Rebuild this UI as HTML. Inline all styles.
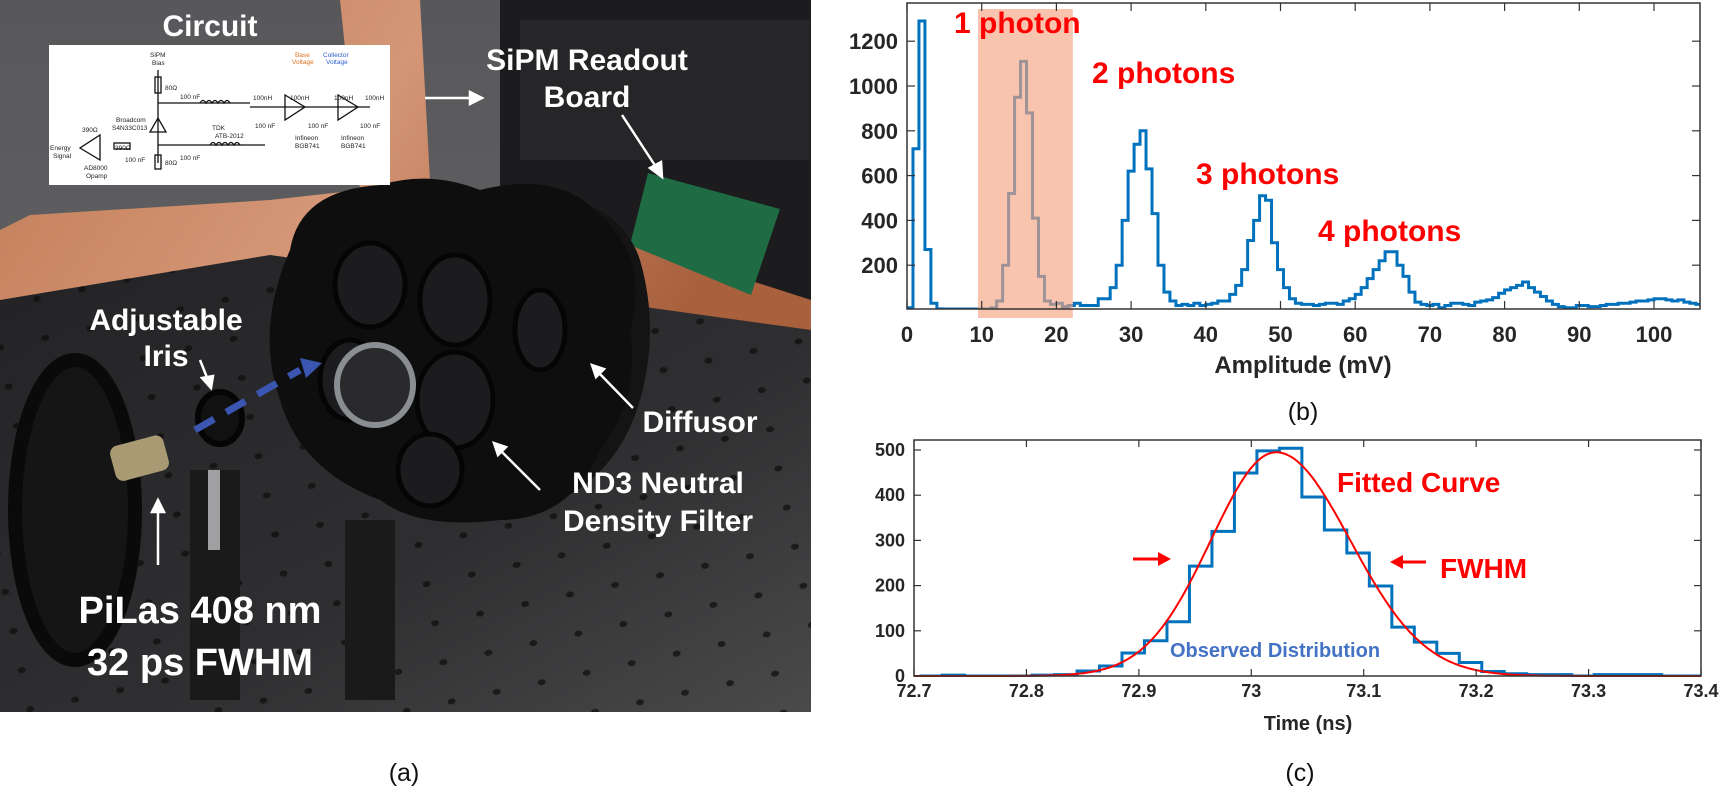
<!DOCTYPE html>
<html><head><meta charset="utf-8"><style>
html,body{margin:0;padding:0;background:#fff;}
svg{display:block;font-family:"Liberation Sans",Arial,sans-serif;}
.tk{font-weight:bold;fill:#262626;}
.lbw{font-weight:bold;fill:#fff;font-size:30px;}
.red{font-weight:bold;fill:#ff0000;}
</style></head><body>
<svg id="fig" width="1720" height="789" viewBox="0 0 1720 789">
<defs>
<linearGradient id="wall" x1="0" y1="0" x2="0" y2="1"><stop offset="0" stop-color="#58585b"/><stop offset="1" stop-color="#68686a"/></linearGradient>
<linearGradient id="copper" x1="0" y1="0" x2="1" y2="0.3"><stop offset="0" stop-color="#c07a55"/><stop offset="0.5" stop-color="#d49676"/><stop offset="1" stop-color="#a8603d"/></linearGradient>
<linearGradient id="table" x1="0" y1="0" x2="1" y2="1"><stop offset="0" stop-color="#232325"/><stop offset="0.6" stop-color="#2f2f31"/><stop offset="1" stop-color="#4a4a4b"/></linearGradient>
<pattern id="holes" width="46" height="40" patternUnits="userSpaceOnUse" patternTransform="rotate(-12)"><ellipse cx="20" cy="20" rx="4" ry="3" fill="#0c0c0c"/></pattern>
<clipPath id="clipB"><rect x="907" y="3" width="793" height="306"/></clipPath>
<clipPath id="clipC"><rect x="914" y="440" width="787" height="237"/></clipPath>
</defs>

<g id="photo">
  <rect x="0" y="0" width="811" height="712" fill="url(#wall)"/>
  <rect x="500" y="0" width="311" height="330" fill="#1c1c1e"/>
  <polygon points="340,0 420,0 430,180 440,205 500,200 811,300 811,380 0,300 0,230 30,215 270,200 360,190" fill="url(#copper)"/>
  <polygon points="0,300 270,255 811,330 811,712 0,712" fill="url(#table)"/>
  <polygon points="0,300 270,255 811,330 811,712 0,712" fill="url(#holes)" opacity="0.7"/>
  <rect x="520" y="20" width="290" height="140" fill="#262628"/>
  <polygon points="648,173 780,209 751,295 630,245" fill="#1f6b43"/>
  <path d="M420,210 Q470,180 540,195 Q620,200 640,260 Q660,330 640,400 Q620,470 560,500 Q500,520 460,500 Z" fill="#141415"/>
  <path d="M290,250 Q300,190 380,185 Q430,170 480,190 Q560,170 600,215 Q650,260 630,330 Q640,400 600,450 Q570,520 500,520 Q420,530 380,500 Q300,470 280,400 Q255,330 290,250 Z" fill="#0e0e0f"/>
  <g fill="#1c1c1e" stroke="#050505" stroke-width="5">
    <ellipse cx="370" cy="285" rx="35" ry="42"/><ellipse cx="455" cy="300" rx="35" ry="45"/>
    <ellipse cx="350" cy="380" rx="30" ry="40"/><ellipse cx="455" cy="400" rx="38" ry="48"/>
    <ellipse cx="430" cy="470" rx="32" ry="36"/><ellipse cx="540" cy="330" rx="25" ry="40"/>
  </g>
  <ellipse cx="375" cy="385" rx="38" ry="40" fill="#2a2a2c" stroke="#8a8e92" stroke-width="6"/>
  <ellipse cx="75" cy="510" rx="60" ry="150" fill="#151516" stroke="#0a0a0a" stroke-width="14"/>
  <rect x="190" y="470" width="50" height="230" fill="#1a1a1b"/>
  <rect x="345" y="520" width="50" height="180" fill="#1a1a1b"/>
  <rect x="208" y="470" width="12" height="80" fill="#a0a0a2"/>
  <ellipse cx="220" cy="418" rx="22" ry="26" fill="#111" stroke="#050505" stroke-width="6"/>
  <rect x="112" y="440" width="55" height="36" rx="8" fill="#a99a74" transform="rotate(-15 140 458)"/>
  <line x1="195" y1="430" x2="300" y2="370" stroke="#3a56b0" stroke-width="7" stroke-dasharray="22,14"/>
  <polygon points="322,363 300,358 306,378" fill="#3a56b0"/>
  <rect x="49" y="45" width="341" height="140" fill="#fff"/>
  <g stroke="#111" stroke-width="1.3" fill="none">
    <line x1="158" y1="70" x2="158" y2="163"/><rect x="155" y="77" width="6" height="16"/>
    <line x1="158" y1="103" x2="250" y2="103"/><path d="M200,103 q3,-5 6,0 q3,-5 6,0 q3,-5 6,0 q3,-5 6,0 q3,-5 6,0"/>
    <polygon points="150,132 166,132 158,118"/><line x1="158" y1="145" x2="265" y2="145"/>
    <path d="M210,145 q3,-5 6,0 q3,-5 6,0 q3,-5 6,0 q3,-5 6,0 q3,-5 6,0"/>
    <polygon points="285,95 285,120 305,107"/><polygon points="338,95 338,120 358,107"/>
    <line x1="250" y1="107" x2="370" y2="107"/><rect x="114" y="143" width="16" height="6"/>
    <polygon points="100,135 100,160 80,148"/><rect x="155" y="155" width="6" height="14"/>
  </g>
  <g font-size="6.5" fill="#222">
    <text x="150" y="57">SiPM</text><text x="152" y="65">Bias</text>
    <text x="165" y="90">80Ω</text><text x="180" y="99">100 nF</text>
    <text x="116" y="122">Broadcom</text><text x="112" y="130">S4N33C013</text>
    <text x="212" y="130">TDK</text><text x="215" y="138">ATB-2012</text>
    <text x="253" y="100">100nH</text><text x="290" y="100">100nH</text><text x="334" y="100">100nH</text><text x="365" y="100">100nH</text>
    <text x="255" y="128">100 nF</text><text x="308" y="128">100 nF</text><text x="360" y="128">100 nF</text>
    <text x="295" y="140">Infineon</text><text x="295" y="148">BGB741</text><text x="341" y="140">Infineon</text><text x="341" y="148">BGB741</text>
    <text x="82" y="132">390Ω</text><text x="115" y="150">390Ω</text><text x="50" y="150">Energy</text><text x="53" y="158">Signal</text>
    <text x="125" y="162">100 nF</text><text x="180" y="160">100 nF</text><text x="165" y="165">80Ω</text>
    <text x="84" y="170">AD8000</text><text x="86" y="178">Opamp</text>
    <text x="295" y="57" fill="#e07020">Base</text><text x="292" y="64" fill="#e07020">Voltage</text>
    <text x="323" y="57" fill="#3060d0">Collector</text><text x="326" y="64" fill="#3060d0">Voltage</text>
  </g>
  <g stroke="#fff" stroke-width="2.5" fill="#fff">
    <line x1="425" y1="98" x2="475" y2="98"/><polygon points="482,98 470,92 470,104"/>
    <line x1="622" y1="115" x2="658" y2="170"/><polygon points="662,177 650,168 661,162"/>
    <line x1="633" y1="408" x2="598" y2="372"/><polygon points="592,365 604,369 596,377"/>
    <line x1="540" y1="490" x2="500" y2="450"/><polygon points="494,443 506,447 498,455"/>
    <line x1="200" y1="360" x2="208" y2="380"/><polygon points="211,388 202,378 213,376"/>
    <line x1="158" y1="565" x2="158" y2="508"/><polygon points="158,500 152,512 164,512"/>
  </g>
  <text class="lbw" x="210" y="36" text-anchor="middle">Circuit</text>
  <text class="lbw" x="587" y="70" text-anchor="middle">SiPM Readout</text>
  <text class="lbw" x="587" y="107" text-anchor="middle">Board</text>
  <text class="lbw" x="166" y="330" text-anchor="middle">Adjustable</text>
  <text class="lbw" x="166" y="366" text-anchor="middle">Iris</text>
  <text class="lbw" x="700" y="432" text-anchor="middle">Diffusor</text>
  <text class="lbw" x="658" y="493" text-anchor="middle">ND3 Neutral</text>
  <text class="lbw" x="658" y="531" text-anchor="middle">Density Filter</text>
  <text class="lbw" x="200" y="623" text-anchor="middle" style="font-size:38px">PiLas 408 nm</text>
  <text class="lbw" x="200" y="675" text-anchor="middle" style="font-size:38px">32 ps FWHM</text>
</g>
<text x="404" y="781" text-anchor="middle" font-size="25" fill="#111">(a)</text>

<g id="chartB"></g>
<text x="1303" y="420" text-anchor="middle" font-size="25" fill="#111">(b)</text>
<g id="chartC"></g>
<text x="1300" y="781" text-anchor="middle" font-size="25" fill="#111">(c)</text>
</svg>
<script>
// ---- Chart (b) data ----
const bBinWidth = 0.8;
const bCounts = [10,720,1290,270,30,5,0,0,0,0,0,0,0,0,10,40,200,520,950,1110,880,410,150,40,25,30,15,20,30,20,20,20,50,50,100,200,400,620,740,800,630,430,200,80,40,20,25,20,30,20,25,30,40,40,70,110,180,310,400,510,490,300,180,100,50,30,25,25,20,25,30,30,25,40,50,70,100,140,180,220,260,260,200,150,80,35,25,20,25,10,20,30,30,25,20,35,40,45,55,75,90,100,110,125,100,80,60,40,25,15,10,10,20,20,15,15,20,25,25,30,30,35,40,40,45,50,50,45,40,45,35,30,25];
const bXTicks = [0,10,20,30,40,50,60,70,80,90,100];
const bYTicks = [200,400,600,800,1000,1200];
const bLabels = ["1 photon","2 photons","3 photons","4 photons"];
const bShade = [9.5,22.2];
// ---- Chart (c) data ----
const cEdge0 = 72.705;
const cBinWidth = 0.02;
const cCounts = [0,2,0,0,0,2,3,11,22,51,78,120,243,320,449,498,504,396,323,272,199,108,75,50,30,10,5,3,3,0,3,3,3,0,0];
const cXTicks = [72.7,72.8,72.9,73,73.1,73.2,73.3,73.4];
const cXTickLabels = ["72.7","72.8","72.9","73","73.1","73.2","73.3","73.4"];
const cYTicks = [0,100,200,300,400,500];
const cFit = [495, 73.022, 0.058, 0.066]; // amplitude, mean, sigma-left, sigma-right

const NS='http://www.w3.org/2000/svg';
function mk(tag, attrs, parent, txt){const e=document.createElementNS(NS,tag);for(const k in attrs)e.setAttribute(k,attrs[k]);if(txt!==undefined)e.textContent=txt;parent.appendChild(e);return e;}

// Chart B
(function(){
  const g=document.getElementById('chartB');
  const L=907,R=1700,T=3,B=309;
  const xs=v=>L+v*7.47, ys=v=>310-v*0.224;
  const plot=mk('g',{'clip-path':'url(#clipB)'},g);
  let d='M'+xs(0)+','+B;
  bCounts.forEach((c,i)=>{const x0=xs(i*bBinWidth),x1=xs((i+1)*bBinWidth),y=Math.min(ys(c),B);d+=' L'+x0+','+y+' L'+x1+','+y;});
  const line=mk('path',{d:d,fill:'none',stroke:'#0072bd','stroke-width':3,'stroke-linejoin':'miter'},plot);
  
  
  const sh=mk('rect',{x:xs(bShade[0]),y:9,width:xs(bShade[1])-xs(bShade[0]),height:309,fill:'#f4a582','fill-opacity':0.65},g);
  
  
  const box=mk('rect',{x:L,y:T,width:R-L,height:B-T,fill:'none',stroke:'#333','stroke-width':1.5},g);
  
  
  bXTicks.forEach(v=>{const x=xs(v);
    mk('line',{x1:x,y1:B,x2:x,y2:B-8,stroke:'#333','stroke-width':1.2},g);
    mk('line',{x1:x,y1:T,x2:x,y2:T+8,stroke:'#333','stroke-width':1.2},g);
    const t=mk('text',{x:x,y:342,'text-anchor':'middle','font-size':22,class:'tk'},g,String(v));
    
    
  });
  bYTicks.forEach(v=>{const y=ys(v);
    mk('line',{x1:L,y1:y,x2:L+8,y2:y,stroke:'#333','stroke-width':1.2},g);
    mk('line',{x1:R,y1:y,x2:R-8,y2:y,stroke:'#333','stroke-width':1.2},g);
    const t=mk('text',{x:898,y:y+8,'text-anchor':'end','font-size':22,class:'tk'},g,String(v));
    
    
  });
  const xt=mk('text',{x:1303,y:373,'text-anchor':'middle','font-size':24,class:'tk'},g,'Amplitude (mV)');
  
  
  const pos=[[954,33],[1092,83],[1196,184],[1318,241]];
  bLabels.forEach((s,i)=>{const t=mk('text',{x:pos[i][0],y:pos[i][1],'font-size':30,class:'red'},g,s);
    
    });
})();

// Chart C
(function(){
  const g=document.getElementById('chartC');
  const L=914,R=1701,T=440,B=676;
  const xs=t=>L+(t-72.7)*1124.3, ys=v=>676-v*0.452;
  const plot=mk('g',{'clip-path':'url(#clipC)'},g);
  let d='M'+xs(cEdge0)+','+ys(0);
  cCounts.forEach((c,i)=>{const x0=xs(cEdge0+i*cBinWidth),x1=xs(cEdge0+(i+1)*cBinWidth);d+=' L'+x0+','+ys(c)+' L'+x1+','+ys(c);});
  const h=mk('path',{d:d,fill:'none',stroke:'#0072bd','stroke-width':3},plot);
  
  
  let f='';
  for(let i=0;i<=400;i++){const t=72.7+i*0.7/400;const s=t<cFit[1]?cFit[2]:cFit[3];const v=cFit[0]*Math.exp(-0.5*Math.pow((t-cFit[1])/s,2));f+=(i?' L':'M')+xs(t).toFixed(1)+','+ys(v).toFixed(1);}
  const fc=mk('path',{d:f,fill:'none',stroke:'#ff0000','stroke-width':2},plot);
  
  
  const box=mk('rect',{x:L,y:T,width:R-L,height:B-T,fill:'none',stroke:'#333','stroke-width':1.5},g);
  
  
  cXTicks.forEach((v,i)=>{const x=xs(v);
    mk('line',{x1:x,y1:B,x2:x,y2:B-7,stroke:'#333','stroke-width':1.2},g);
    mk('line',{x1:x,y1:T,x2:x,y2:T+7,stroke:'#333','stroke-width':1.2},g);
    const t=mk('text',{x:x,y:697,'text-anchor':'middle','font-size':18,class:'tk'},g,cXTickLabels[i]);
    
    
  });
  cYTicks.forEach(v=>{const y=ys(v);
    mk('line',{x1:L,y1:y,x2:L+7,y2:y,stroke:'#333','stroke-width':1.2},g);
    mk('line',{x1:R,y1:y,x2:R-7,y2:y,stroke:'#333','stroke-width':1.2},g);
    const t=mk('text',{x:905,y:y+6,'text-anchor':'end','font-size':18,class:'tk'},g,String(v));
    
    
  });
  const xt=mk('text',{x:1308,y:730,'text-anchor':'middle','font-size':20,class:'tk'},g,'Time (ns)');
  
  
  const t1=mk('text',{x:1337,y:492,'font-size':28,class:'red'},g,'Fitted Curve');
  
  
  const t2=mk('text',{x:1440,y:578,'font-size':28,class:'red'},g,'FWHM');
  
  
  const t3=mk('text',{x:1170,y:657,'font-size':20,'font-weight':'bold',fill:'#4472c4'},g,'Observed Distribution');
  
  
  mk('line',{x1:1133,y1:559,x2:1160,y2:559,stroke:'#ff0000','stroke-width':3},g);
  mk('polygon',{points:'1171,559 1158,552 1158,566',fill:'#ff0000'},g);
  mk('line',{x1:1426,y1:562,x2:1401,y2:562,stroke:'#ff0000','stroke-width':3},g);
  mk('polygon',{points:'1390,562 1403,555 1403,569',fill:'#ff0000'},g);
})();
</script>
</body></html>
